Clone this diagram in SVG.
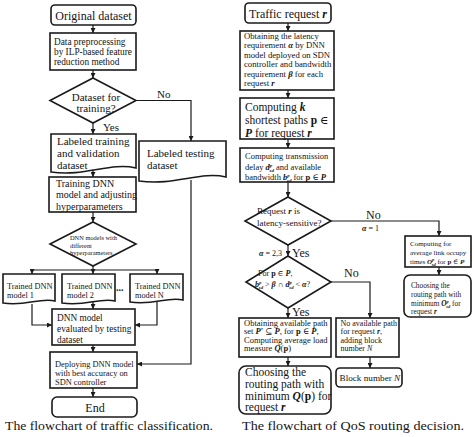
<svg xmlns="http://www.w3.org/2000/svg" width="474" height="437" viewBox="0 0 474 437">
<defs>
<marker id="ah" viewBox="0 0 6 6" refX="6" refY="3" markerWidth="5" markerHeight="5" markerUnits="userSpaceOnUse" orient="auto">
<path d="M0,0 L6,3 L0,6 Z" fill="#1a1a1a"/>
</marker>
<style>
.box{fill:#fff;stroke:#1a1a1a;stroke-width:1.6}
.ln{fill:none;stroke:#1a1a1a;stroke-width:1.2}
.ar{fill:none;stroke:#1a1a1a;stroke-width:1.2;marker-end:url(#ah)}
text{font-family:"Liberation Serif","Times New Roman","DejaVu Serif",serif;fill:#141414}
.m{font-style:italic;font-weight:bold}
.b{font-weight:bold}
.cap{font-size:13px}
</style>
</defs>
<rect width="474" height="437" fill="#fff"/>

<g id="connectors">
<!-- left -->
<line class="ar" x1="93" y1="25" x2="93" y2="33"/>
<line class="ar" x1="93" y1="70" x2="93" y2="78"/>
<polyline class="ar" points="136,100.5 191,100.5 191,141"/>
<line class="ar" x1="93" y1="123" x2="93" y2="134"/>
<line class="ar" x1="93" y1="170" x2="93" y2="177"/>
<line class="ar" x1="93" y1="212" x2="93" y2="222"/>
<polyline class="ln" points="93,266 93,270"/>
<line class="ln" x1="32" y1="270" x2="157" y2="270"/>
<line class="ar" x1="32" y1="270" x2="32" y2="274"/>
<line class="ar" x1="93" y1="270" x2="93" y2="274"/>
<line class="ar" x1="157" y1="270" x2="157" y2="274"/>
<polyline class="ar" points="32,304 32,325 52,325"/>
<line class="ar" x1="93" y1="302" x2="93" y2="309"/>
<polyline class="ar" points="157,301 157,325 135,325"/>
<line class="ar" x1="93" y1="345" x2="93" y2="352"/>
<polyline class="ar" points="191,180 191,364 137,364"/>
<line class="ar" x1="93" y1="388" x2="93" y2="397"/>
<!-- right -->
<line class="ar" x1="288" y1="23" x2="288" y2="31"/>
<line class="ar" x1="288" y1="90" x2="288" y2="98"/>
<line class="ar" x1="288" y1="139" x2="288" y2="148"/>
<line class="ar" x1="288" y1="182" x2="288" y2="197"/>
<polyline class="ar" points="331,221 439,221 439,236"/>
<line class="ar" x1="439" y1="267" x2="439" y2="275"/>
<line class="ar" x1="288" y1="245" x2="288" y2="256"/>
<polyline class="ar" points="331,282 370,282 370,318"/>
<line class="ar" x1="288" y1="308" x2="288" y2="318"/>
<line class="ar" x1="288" y1="357" x2="288" y2="366"/>
<line class="ar" x1="370" y1="357" x2="370" y2="368"/>
</g>

<g id="labels">
<text x="157" y="98" font-size="11">No</text>
<text x="103" y="131" font-size="11">Yes</text>
<text x="366" y="219" font-size="12">No</text>
<text x="362" y="231" font-size="8"><tspan class="m">α</tspan> = 1</text>
<text x="259" y="256" font-size="8"><tspan class="m">α</tspan> = 2,3</text>
<text x="292" y="257" font-size="12">Yes</text>
<text x="344" y="277" font-size="12">No</text>
<text x="292" y="316" font-size="12">Yes</text>
</g>

<!-- left flowchart -->
<g id="original">
<rect class="box" x="51" y="5" width="85" height="20" rx="4"/>
<text x="93.5" y="19.5" font-size="12" text-anchor="middle">Original dataset</text>
</g>
<g id="preprocess">
<rect class="box" x="50" y="33" width="86" height="37"/>
<text font-size="9.3"><tspan x="54" y="45">Data preprocessing</tspan><tspan x="54" y="55">by ILP-based feature</tspan><tspan x="54" y="65">reduction method</tspan></text>
</g>
<g id="dec-training">
<polygon class="box" points="93,78 136,100.5 93,123 50,100.5"/>
<text font-size="11" text-anchor="middle"><tspan x="96" y="100.5">Dataset for</tspan><tspan x="96" y="112">training?</tspan></text>
</g>
<g id="train-data">
<path class="box" d="M51,134 H136 V168 C110,162 85,177 51,172 Z"/>
<text font-size="11"><tspan x="57" y="144.5">Labeled training</tspan><tspan x="57" y="157">and validation</tspan><tspan x="57" y="169">dataset</tspan></text>
</g>
<g id="test-data">
<path class="box" d="M139,141 H226 V177 C200,171 175,186 139,181 Z"/>
<text font-size="11"><tspan x="147" y="157">Labeled testing</tspan><tspan x="147" y="169">dataset</tspan></text>
</g>
<g id="training">
<rect class="box" x="49" y="177" width="87" height="35"/>
<text font-size="10"><tspan x="56" y="186.5">Training DNN</tspan><tspan x="56" y="198">model and adjusting</tspan><tspan x="56" y="209.5">hyperparameters</tspan></text>
</g>
<g id="dec-models">
<polygon class="box" points="93,222 136,244 93,266 50,244"/>
<text font-size="6.4"><tspan x="70" y="240">DNN models with</tspan><tspan x="70" y="247.5">different</tspan><tspan x="70" y="255">hyperparameters</tspan></text>
</g>
<g id="model1">
<path class="box" d="M3,274 H55 V301 C40,297 25,307 3,303 Z"/>
<text font-size="8.3"><tspan x="7" y="288.5">Trained DNN</tspan><tspan x="7" y="298">model 1</tspan></text>
</g>
<g id="model2">
<path class="box" d="M62,274 H115 V301 C100,297 85,307 62,303 Z"/>
<text font-size="8.3"><tspan x="67" y="288.5">Trained DNN</tspan><tspan x="67" y="298">model 2</tspan></text>
</g>
<text x="116" y="291" font-size="10" class="b">...</text>
<g id="modelN">
<path class="box" d="M130,274 H183 V300 C168,296 153,306 130,302 Z"/>
<text font-size="8.3"><tspan x="135" y="288.5">Trained DNN</tspan><tspan x="135" y="298">model N</tspan></text>
</g>
<g id="evaluate">
<rect class="box" x="52" y="309" width="83" height="36"/>
<text font-size="9.3"><tspan x="57" y="321">DNN model</tspan><tspan x="57" y="332">evaluated by testing</tspan><tspan x="57" y="342.5">dataset</tspan></text>
</g>
<g id="deploy">
<rect class="box" x="50" y="352" width="87" height="36"/>
<text font-size="8.4"><tspan x="55" y="367">Deploying DNN model</tspan><tspan x="55" y="376">with best accuracy on</tspan><tspan x="55" y="385">SDN controller</tspan></text>
</g>
<g id="end">
<rect class="box" x="52" y="397" width="85" height="20" rx="5"/>
<text x="95" y="411.5" font-size="12" text-anchor="middle">End</text>
</g>
<text class="cap" x="109" y="430" text-anchor="middle" textLength="208" lengthAdjust="spacingAndGlyphs">The flowchart of traffic classification.</text>

<!-- right flowchart -->
<g id="request">
<rect class="box" x="245" y="3" width="86" height="20" rx="4"/>
<text x="288" y="17.5" font-size="12" text-anchor="middle">Traffic request <tspan class="m">r</tspan></text>
</g>
<g id="obtain-req">
<rect class="box" x="240" y="31" width="94" height="59"/>
<text font-size="8.7"><tspan x="244" y="38.5">Obtaining the latency</tspan><tspan x="244" y="48">requirement <tspan class="m">α</tspan> by DNN</tspan><tspan x="244" y="57.5">model deployed on SDN</tspan><tspan x="244" y="67">controller and bandwidth</tspan><tspan x="244" y="76.5">requirement <tspan class="m">β</tspan> for each</tspan><tspan x="244" y="86">request <tspan class="m">r</tspan></tspan></text>
</g>
<g id="kpaths">
<rect class="box" x="240" y="98" width="94" height="41"/>
<text font-size="11.5"><tspan x="245" y="111">Computing <tspan class="m">k</tspan></tspan><tspan x="245" y="124">shortest paths <tspan class="b">p</tspan> ∈</tspan><tspan x="245" y="137"><tspan class="m">P</tspan> for request <tspan class="m">r</tspan></tspan></text>
</g>
<g id="delay">
<rect class="box" x="240" y="148" width="94" height="34"/>
<text font-size="8.5"><tspan x="245" y="159">Computing transmission</tspan><tspan x="245" y="170">delay <tspan class="m">d</tspan><tspan class="m" font-size="5" dy="-3">p</tspan><tspan class="m" font-size="5" dx="-2.8" dy="5">sd</tspan><tspan dy="-2"> and available</tspan></tspan><tspan x="245" y="180">bandwidth <tspan class="m">b</tspan><tspan class="m" font-size="5" dy="-3">p</tspan><tspan class="m" font-size="5" dx="-2.8" dy="5">sd</tspan><tspan dy="-2"> for <tspan class="b">p</tspan> ∈ <tspan class="m">P</tspan></tspan></tspan></text>
</g>
<g id="dec-latency">
<polygon class="box" points="288,197 331,221 288,245 245,221"/>
<text font-size="9"><tspan x="257" y="214">Request <tspan class="m">r</tspan> is</tspan><tspan x="257" y="226">latency-sensitive?</tspan></text>
</g>
<g id="occupy">
<rect class="box" x="405" y="236" width="66" height="31"/>
<text font-size="7"><tspan x="410" y="245.5">Computing for</tspan><tspan x="410" y="254.5">average link occupy</tspan><tspan x="410" y="263.5">times <tspan class="m">O</tspan><tspan class="m" font-size="4.5" dy="-3">p</tspan><tspan class="m" font-size="4.5" dx="-2.5" dy="5">sd</tspan><tspan dy="-2"> for <tspan class="b">p</tspan> ∈ <tspan class="m">P</tspan></tspan></tspan></text>
</g>
<g id="choose-o">
<rect class="box" x="404" y="275" width="67" height="42" rx="6"/>
<text font-size="7.3"><tspan x="411" y="287.5">Choosing the</tspan><tspan x="411" y="296.5">routing path with</tspan><tspan x="411" y="305.5">minimum <tspan class="m">O</tspan><tspan class="m" font-size="4.5" dy="-3">p</tspan><tspan class="m" font-size="4.5" dx="-2.5" dy="5">sd</tspan><tspan dy="-2"> for</tspan></tspan><tspan x="411" y="314">request <tspan class="m">r</tspan></tspan></text>
</g>
<g id="dec-bandwidth">
<polygon class="box" points="288,256 331,282 288,308 246,282"/>
<text font-size="8"><tspan x="258" y="276">For <tspan class="b">p</tspan> ∈ <tspan class="m">P</tspan>,</tspan><tspan x="255" y="287"><tspan class="m">b</tspan><tspan class="m" font-size="4.8" dy="-3">p</tspan><tspan class="m" font-size="4.8" dx="-2.6" dy="5">sd</tspan><tspan dy="-2"> &gt; <tspan class="m">β</tspan> ∩ <tspan class="m">d</tspan></tspan><tspan class="m" font-size="4.8" dy="-3">p</tspan><tspan class="m" font-size="4.8" dx="-2.6" dy="5">sd</tspan><tspan dy="-2"> &lt; <tspan class="m">α</tspan>?</tspan></tspan></text>
</g>
<g id="available">
<rect class="box" x="239" y="318" width="92" height="39"/>
<text font-size="8.5"><tspan x="244" y="325.5">Obtaining available path</tspan><tspan x="244" y="334">set <tspan class="m">P′</tspan> ⊆ <tspan class="m">P</tspan>, for <tspan class="b">p</tspan> ∈ <tspan class="m">P</tspan>,</tspan><tspan x="244" y="342.5">Computing average load</tspan><tspan x="244" y="351">measure <tspan class="m">Q</tspan>(<tspan class="b">p</tspan>)</tspan></text>
</g>
<g id="no-path">
<rect class="box" x="336" y="318" width="63" height="39"/>
<text font-size="8"><tspan x="340.5" y="325.5">No available path</tspan><tspan x="340.5" y="334">for request <tspan class="m">r</tspan>,</tspan><tspan x="340.5" y="342.5">adding block</tspan><tspan x="340.5" y="351">number <tspan font-style="italic">N</tspan></tspan></text>
</g>
<g id="choose-q">
<rect class="box" x="239" y="366" width="92" height="48" rx="7"/>
<text font-size="11.5"><tspan x="245" y="376">Choosing the</tspan><tspan x="245" y="388">routing path with</tspan><tspan x="245" y="400">minimum <tspan class="m">Q</tspan>(<tspan class="b">p</tspan>) for</tspan><tspan x="245" y="411">request <tspan class="m">r</tspan></tspan></text>
</g>
<g id="block">
<rect class="box" x="336" y="368" width="66" height="19" rx="4"/>
<text x="339.5" y="380.5" font-size="9.2">Block number <tspan font-style="italic">N</tspan></text>
</g>
<text class="cap" x="353" y="430" text-anchor="middle" textLength="222" lengthAdjust="spacingAndGlyphs">The flowchart of QoS routing decision.</text>
</svg>
